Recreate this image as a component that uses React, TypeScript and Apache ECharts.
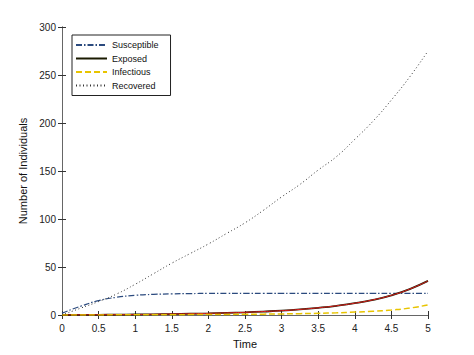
import React, { useEffect, useRef } from "react";
import * as echarts from "echarts";

const times = [0, 0.25, 0.5, 0.75, 1, 1.25, 1.5, 1.75, 2, 2.25, 2.5, 2.75, 3, 3.25, 3.5, 3.75, 4, 4.25, 4.5, 4.75, 5];
const susceptible = [2, 9, 15, 18.5, 20.5, 21.5, 22, 22.3, 22.5, 22.5, 22.5, 22.5, 22.5, 22.5, 22.5, 22.5, 22.5, 22.5, 22.5, 22.5, 22.5];
const exposed = [0, 0.1, 0.2, 0.3, 0.5, 0.7, 1.0, 1.3, 1.7, 2.2, 2.8, 3.6, 4.5, 5.8, 7.5, 9.6, 12.3, 15.8, 20.5, 27, 35.5];
const infectious = [0, 0.05, 0.1, 0.15, 0.2, 0.25, 0.3, 0.4, 0.5, 0.6, 0.75, 0.9, 1.1, 1.4, 1.8, 2.3, 3.0, 3.9, 5.2, 7.2, 10.5];
const recovered = [0, 7, 14, 22, 32, 43, 54, 64, 74, 85, 96, 109, 123, 136, 151, 165, 183, 202, 224, 248, 275];
const seriesNames = ["Susceptible", "Exposed", "Infectious", "Recovered"];

const pairs = (ys: number[]) => times.map((t, i) => [t, ys[i]]);

export default function App() {
  const ref = useRef<HTMLDivElement>(null);
  useEffect(() => {
    if (!ref.current) return;
    const chart = echarts.init(ref.current, undefined, { renderer: "svg" });
    const font = "'Liberation Sans', Arial, sans-serif";
    const axisCommon = {
      axisLine: { show: true, lineStyle: { color: "#666", width: 1 } },
      axisTick: { show: true, inside: true, length: 4, lineStyle: { color: "#333" } },
      splitLine: { show: false },
    };
    chart.setOption({
      animation: false,
      backgroundColor: "#fff",
      textStyle: { fontFamily: font },
      grid: { left: 62, right: 46, top: 27, bottom: 40 },
      legend: {
        data: seriesNames,
        orient: "vertical",
        left: 72,
        top: 35,
        padding: [5, 12, 5, 3],
        itemWidth: 31,
        itemHeight: 10,
        itemGap: 3.5,
        backgroundColor: "#fff",
        borderColor: "#222",
        borderWidth: 1,
        borderRadius: 0,
        itemStyle: { color: "transparent", borderColor: "transparent", borderWidth: 0 },
        textStyle: { fontSize: 9, color: "#111", fontFamily: font, lineHeight: 10 },
      },
      xAxis: [
        {
          type: "value",
          min: 0,
          max: 5,
          interval: 0.5,
          name: "Time",
          nameLocation: "middle",
          nameGap: 23,
          nameTextStyle: { fontSize: 11, color: "#111" },
          axisLabel: { fontSize: 10, color: "#222", margin: 8 },
          ...axisCommon,
        },
        {
          type: "value",
          position: "top",
          min: 0,
          max: 5,
          interval: 0.5,
          axisLabel: { show: false },
          ...axisCommon,
        },
      ],
      yAxis: [
        {
          type: "value",
          min: 0,
          max: 300,
          interval: 50,
          name: "Number of Individuals",
          nameLocation: "middle",
          nameGap: 23,
          nameTextStyle: { fontSize: 11, color: "#111" },
          axisLabel: { fontSize: 10, color: "#222", margin: 6 },
          ...axisCommon,
        },
        {
          type: "value",
          position: "right",
          min: 0,
          max: 300,
          interval: 50,
          axisLabel: { show: false },
          ...axisCommon,
        },
      ],
      series: [
        {
          name: "Susceptible",
          type: "line",
          data: pairs(susceptible),
          symbol: "none",
          smooth: true,
          lineStyle: { color: "#2b4a7e", width: 1.2, type: [6, 2, 1.5, 2] },
          itemStyle: { color: "#2b4a7e" },
        },
        {
          name: "Exposed",
          type: "line",
          data: pairs(exposed),
          symbol: "none",
          smooth: true,
          lineStyle: { color: "#1a1a00", width: 1.8 },
          itemStyle: { color: "#1a1a00" },
        },
        {
          name: "ExposedOverlay",
          type: "line",
          data: pairs(exposed),
          symbol: "none",
          smooth: true,
          lineStyle: { color: "#e02020", width: 1 },
          itemStyle: { color: "#e02020" },
        },
        {
          name: "Infectious",
          type: "line",
          data: pairs(infectious),
          symbol: "none",
          smooth: true,
          lineStyle: { color: "#e8c400", width: 1.5, type: [6, 3] },
          itemStyle: { color: "#e8c400" },
        },
        {
          name: "Recovered",
          type: "line",
          data: pairs(recovered),
          symbol: "none",
          smooth: true,
          lineStyle: { color: "#333", width: 1, type: [1, 2.5] },
          itemStyle: { color: "#333" },
        },
      ],
    });
    return () => chart.dispose();
  }, []);
  return (
    <div
      ref={ref}
      style={{ position: "absolute", left: 0, top: 0, width: 474, height: 355 }}
    />
  );
}
